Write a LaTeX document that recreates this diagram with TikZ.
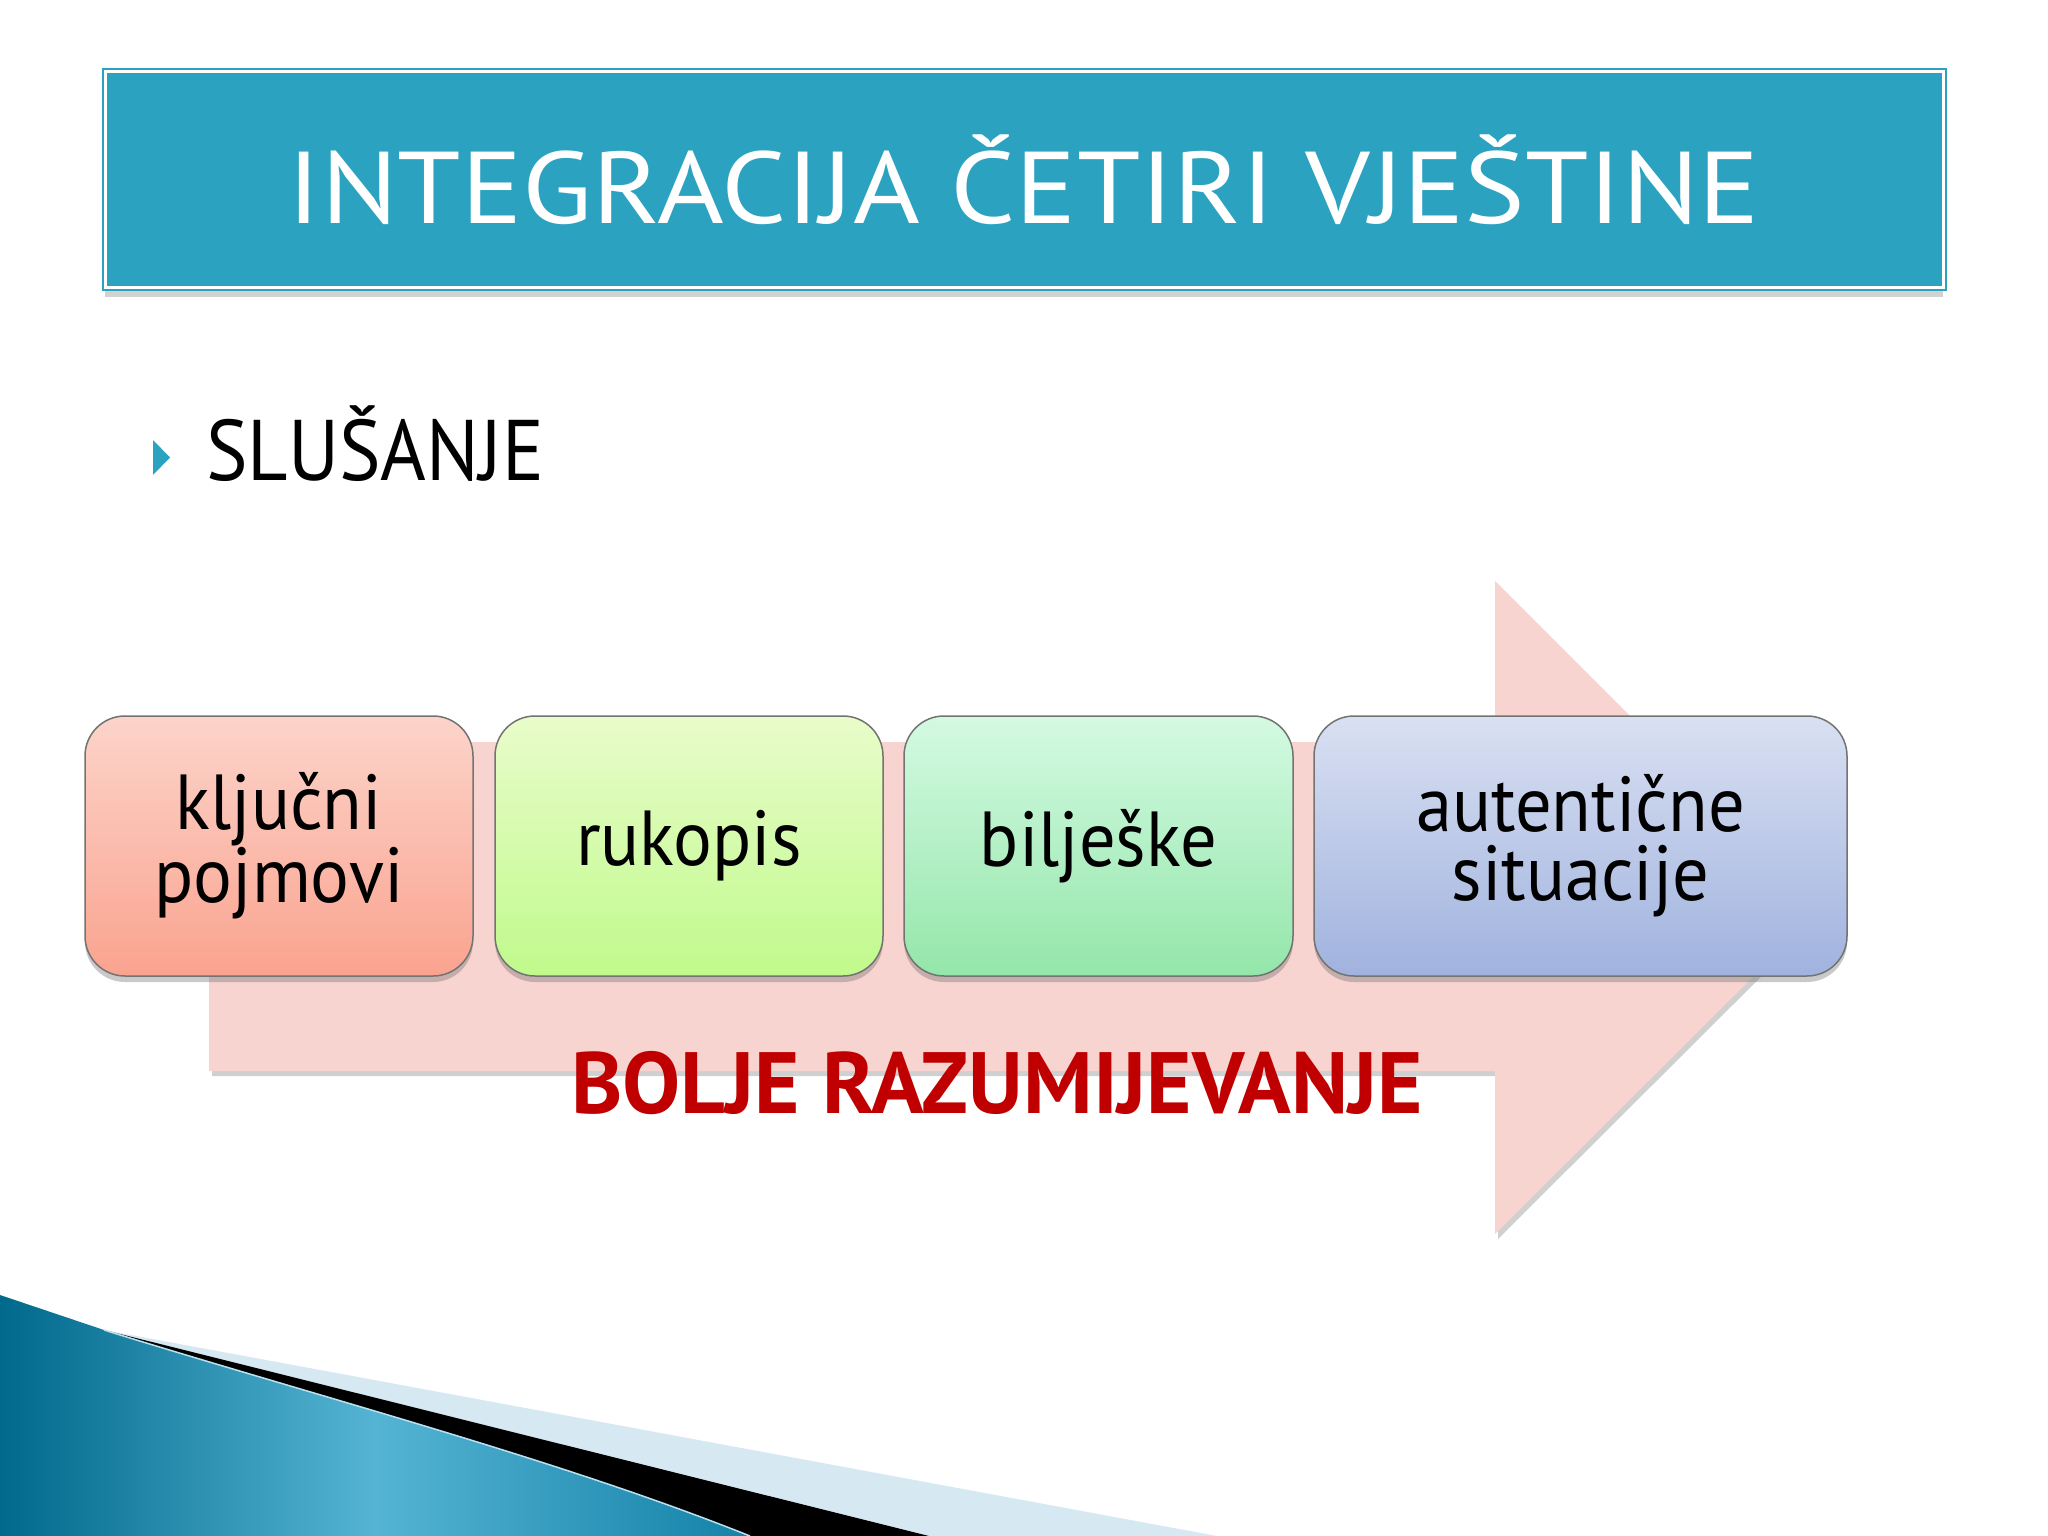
\documentclass[tikz,border=0pt]{standalone}
\usepackage{fontspec}
\setmainfont{PT Sans}
\newfontfamily\twtitle[FakeStretch=1.12]{PT Sans}
\newfontfamily\twhead[FakeStretch=0.91]{PT Sans}
\newfontfamily\twbox[FakeStretch=0.93]{PT Sans}
\newfontfamily\twred[FakeStretch=1.0]{PT Sans}
\usetikzlibrary{shadows}
\definecolor{tealA}{RGB}{43,163,192}
\definecolor{pinkA}{RGB}{247,212,207}
\definecolor{redA}{RGB}{192,0,0}
\definecolor{lightblueA}{RGB}{214,232,242}
\definecolor{blueDark}{RGB}{0,105,140}
\definecolor{blueMid}{RGB}{85,180,212}
\definecolor{blueRight}{RGB}{20,130,168}
\tikzset{
  stepbox/.style={rounded corners=40pt, draw=black!55, line width=1.5pt,
    minimum height=260pt, align=center, text=black,
    font=\twbox\fontsize{78}{69}\selectfont,
    drop shadow={shadow xshift=0pt, shadow yshift=-6pt, opacity=0.35, fill=black!60}},
  titlebox/.style={fill=tealA, draw=tealA, line width=2pt, double=white, double distance=3pt,
    minimum width=1838pt, minimum height=215pt, text=white,
    font=\twtitle\fontsize{102}{102}\selectfont,
    drop shadow={shadow xshift=0pt, shadow yshift=-10pt, opacity=0.35, fill=black!50}},
}
\begin{document}
\begin{tikzpicture}[x=1pt,y=-1pt]
\useasboundingbox (0,0) rectangle (2048,1536);
\fill[white] (0,0) rectangle (2048,1536);

% title
\node[titlebox] (title) at (1024,179.5) {INTEGRACIJA ČETIRI VJEŠTINE};

% bullet and heading
\fill[tealA] (153,440) -- (170,457.5) -- (153,475) -- cycle;
\node[anchor=base west, inner sep=0pt, font=\twhead\fontsize{86}{86}\selectfont] (slusanje) at (206,480) {SLUŠANJE};

% big arrow
\fill[pinkA, drop shadow={shadow xshift=3pt, shadow yshift=-5pt, opacity=0.3, fill=black!60}]
  (209,742) -- (1495,742) -- (1495,581) -- (1822,908) -- (1495,1234) -- (1495,1071) -- (209,1071) -- cycle;

% boxes
\node[stepbox, minimum width=388pt, top color={rgb,255:red,252;green,212;blue,202}, bottom color={rgb,255:red,250;green,163;blue,143}] (b1) at (279,846) {ključni\\pojmovi};
\node[stepbox, minimum width=388pt, top color={rgb,255:red,233;green,252;blue,202}, bottom color={rgb,255:red,192;green,250;blue,140}] (b2) at (689,846) {rukopis};
\node[stepbox, minimum width=389pt, top color={rgb,255:red,212;green,250;blue,226}, bottom color={rgb,255:red,148;green,230;blue,170}] (b3) at (1098.5,846) {bilješke};
\node[stepbox, minimum width=533pt, top color={rgb,255:red,217;green,224;blue,242}, bottom color={rgb,255:red,160;green,178;blue,222}] (b4) at (1580.5,846) {autentične\\situacije};

% result label
\node[anchor=base, inner sep=0pt, text=redA, font=\twred\bfseries\fontsize{87}{87}\selectfont] (result) at (997,1113) {BOLJE RAZUMIJEVANJE};

% bottom-left decoration
\fill[lightblueA] (104,1330) -- (1217,1536) -- (0,1536) -- cycle;
\fill[black] (104,1330) -- (929,1536) -- (0,1536) -- cycle;
\shade[left color=blueDark, right color=blueRight, middle color=blueMid]
  (0,1295) -- (104,1330) .. controls (330,1400) and (560,1460) .. (750,1536) -- (0,1536) -- cycle;
\draw[blueMid!40!white, line width=1.5pt] (104,1330) .. controls (330,1400) and (560,1460) .. (750,1536);
\end{tikzpicture}
\end{document}
